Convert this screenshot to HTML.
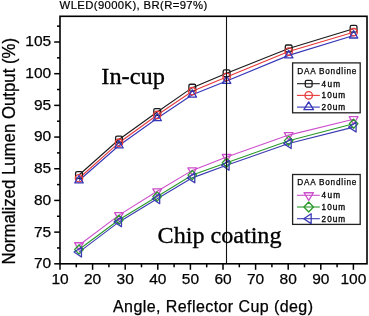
<!DOCTYPE html>
<html><head><meta charset="utf-8"><title>Normalized Lumen Output</title>
<style>
html,body{margin:0;padding:0;background:#fff;width:369px;height:316px;overflow:hidden}
svg{display:block}
text{fill:#000}
</style></head><body>
<svg width="369" height="316" viewBox="0 0 369 316">
<rect width="369" height="316" fill="#fff"/>
<polyline points="79,175.02 119,139.53 157.2,111.97 192.3,87.63 226.6,73.18 288.7,48.41 353.6,28.82" fill="none" stroke="#1a1a1a" stroke-width="1.1"/>
<polyline points="79,178.25 119,142.7 157.2,114.94 192.3,91.18 226.6,76.92 288.7,51.57 353.6,32.18" fill="none" stroke="#e8393a" stroke-width="1.1"/>
<polyline points="79,180.47 119,145.49 157.2,118.24 192.3,94.67 226.6,80.98 288.7,55.38 353.6,35.54" fill="none" stroke="#3636b8" stroke-width="1.1"/>
<polyline points="79,245.23 119,215.13 157.2,191.3 192.3,170.39 226.6,156.96 288.7,135.1 353.6,119.19" fill="none" stroke="#cc4fcc" stroke-width="1.1"/>
<polyline points="79,249.54 119,219.76 157.2,196.56 192.3,175.08 226.6,162.72 288.7,140.67 353.6,123.75" fill="none" stroke="#2a9a2a" stroke-width="1.1"/>
<polyline points="79,252.08 119,221.91 157.2,198.78 192.3,177.87 226.6,165.32 288.7,143.59 353.6,127.11" fill="none" stroke="#3a3ab4" stroke-width="1.1"/>
<rect x="75.6" y="171.62" width="6.8" height="6.8" rx="1.5" fill="none" stroke="#1a1a1a" stroke-width="1.3"/>
<circle cx="79" cy="178.25" r="3.7" fill="none" stroke="#e8393a" stroke-width="1.3"/>
<polygon points="79,175.54 83.2,182.94 74.8,182.94" fill="none" stroke="#3636b8" stroke-width="1.3" stroke-linejoin="round"/>
<polygon points="74.6,242.77 83.4,242.77 79,250.17" fill="none" stroke="#cc4fcc" stroke-width="1.3" stroke-linejoin="round"/>
<polygon points="79,244.94 83.3,249.54 79,254.14 74.7,249.54" fill="none" stroke="#2a9a2a" stroke-width="1.3" stroke-linejoin="round"/>
<polygon points="74.07,252.08 81.47,247.18 81.47,256.98" fill="none" stroke="#3a3ab4" stroke-width="1.3" stroke-linejoin="round"/>
<rect x="115.6" y="136.13" width="6.8" height="6.8" rx="1.5" fill="none" stroke="#1a1a1a" stroke-width="1.3"/>
<circle cx="119" cy="142.7" r="3.7" fill="none" stroke="#e8393a" stroke-width="1.3"/>
<polygon points="119,140.55 123.2,147.95 114.8,147.95" fill="none" stroke="#3636b8" stroke-width="1.3" stroke-linejoin="round"/>
<polygon points="114.6,212.67 123.4,212.67 119,220.07" fill="none" stroke="#cc4fcc" stroke-width="1.3" stroke-linejoin="round"/>
<polygon points="119,215.16 123.3,219.76 119,224.36 114.7,219.76" fill="none" stroke="#2a9a2a" stroke-width="1.3" stroke-linejoin="round"/>
<polygon points="114.07,221.91 121.47,217.01 121.47,226.81" fill="none" stroke="#3a3ab4" stroke-width="1.3" stroke-linejoin="round"/>
<rect x="153.8" y="108.57" width="6.8" height="6.8" rx="1.5" fill="none" stroke="#1a1a1a" stroke-width="1.3"/>
<circle cx="157.2" cy="114.94" r="3.7" fill="none" stroke="#e8393a" stroke-width="1.3"/>
<polygon points="157.2,113.31 161.4,120.71 153,120.71" fill="none" stroke="#3636b8" stroke-width="1.3" stroke-linejoin="round"/>
<polygon points="152.8,188.84 161.6,188.84 157.2,196.24" fill="none" stroke="#cc4fcc" stroke-width="1.3" stroke-linejoin="round"/>
<polygon points="157.2,191.96 161.5,196.56 157.2,201.16 152.9,196.56" fill="none" stroke="#2a9a2a" stroke-width="1.3" stroke-linejoin="round"/>
<polygon points="152.27,198.78 159.67,193.88 159.67,203.68" fill="none" stroke="#3a3ab4" stroke-width="1.3" stroke-linejoin="round"/>
<rect x="188.9" y="84.23" width="6.8" height="6.8" rx="1.5" fill="none" stroke="#1a1a1a" stroke-width="1.3"/>
<circle cx="192.3" cy="91.18" r="3.7" fill="none" stroke="#e8393a" stroke-width="1.3"/>
<polygon points="192.3,89.73 196.5,97.13 188.1,97.13" fill="none" stroke="#3636b8" stroke-width="1.3" stroke-linejoin="round"/>
<polygon points="187.9,167.93 196.7,167.93 192.3,175.33" fill="none" stroke="#cc4fcc" stroke-width="1.3" stroke-linejoin="round"/>
<polygon points="192.3,170.48 196.6,175.08 192.3,179.68 188,175.08" fill="none" stroke="#2a9a2a" stroke-width="1.3" stroke-linejoin="round"/>
<polygon points="187.37,177.87 194.77,172.97 194.77,182.77" fill="none" stroke="#3a3ab4" stroke-width="1.3" stroke-linejoin="round"/>
<rect x="223.2" y="69.78" width="6.8" height="6.8" rx="1.5" fill="none" stroke="#1a1a1a" stroke-width="1.3"/>
<circle cx="226.6" cy="76.92" r="3.7" fill="none" stroke="#e8393a" stroke-width="1.3"/>
<polygon points="226.6,76.04 230.8,83.44 222.4,83.44" fill="none" stroke="#3636b8" stroke-width="1.3" stroke-linejoin="round"/>
<polygon points="222.2,154.49 231,154.49 226.6,161.89" fill="none" stroke="#cc4fcc" stroke-width="1.3" stroke-linejoin="round"/>
<polygon points="226.6,158.12 230.9,162.72 226.6,167.32 222.3,162.72" fill="none" stroke="#2a9a2a" stroke-width="1.3" stroke-linejoin="round"/>
<polygon points="221.67,165.32 229.07,160.42 229.07,170.22" fill="none" stroke="#3a3ab4" stroke-width="1.3" stroke-linejoin="round"/>
<rect x="285.3" y="45.01" width="6.8" height="6.8" rx="1.5" fill="none" stroke="#1a1a1a" stroke-width="1.3"/>
<circle cx="288.7" cy="51.57" r="3.7" fill="none" stroke="#e8393a" stroke-width="1.3"/>
<polygon points="288.7,50.44 292.9,57.84 284.5,57.84" fill="none" stroke="#3636b8" stroke-width="1.3" stroke-linejoin="round"/>
<polygon points="284.3,132.63 293.1,132.63 288.7,140.03" fill="none" stroke="#cc4fcc" stroke-width="1.3" stroke-linejoin="round"/>
<polygon points="288.7,136.07 293,140.67 288.7,145.27 284.4,140.67" fill="none" stroke="#2a9a2a" stroke-width="1.3" stroke-linejoin="round"/>
<polygon points="283.77,143.59 291.17,138.69 291.17,148.49" fill="none" stroke="#3a3ab4" stroke-width="1.3" stroke-linejoin="round"/>
<rect x="350.2" y="25.42" width="6.8" height="6.8" rx="1.5" fill="none" stroke="#1a1a1a" stroke-width="1.3"/>
<circle cx="353.6" cy="32.18" r="3.7" fill="none" stroke="#e8393a" stroke-width="1.3"/>
<polygon points="353.6,30.61 357.8,38.01 349.4,38.01" fill="none" stroke="#3636b8" stroke-width="1.3" stroke-linejoin="round"/>
<polygon points="349.2,116.72 358,116.72 353.6,124.12" fill="none" stroke="#cc4fcc" stroke-width="1.3" stroke-linejoin="round"/>
<polygon points="353.6,119.15 357.9,123.75 353.6,128.35 349.3,123.75" fill="none" stroke="#2a9a2a" stroke-width="1.3" stroke-linejoin="round"/>
<polygon points="348.67,127.11 356.07,122.21 356.07,132.01" fill="none" stroke="#3a3ab4" stroke-width="1.3" stroke-linejoin="round"/>
<line x1="226.5" y1="16.3" x2="226.5" y2="263.8" stroke="#111" stroke-width="1.1"/>
<rect x="60.0" y="16.3" width="307.0" height="247.5" fill="none" stroke="#000" stroke-width="1.6"/>
<line x1="54.2" y1="263.8" x2="60" y2="263.8" stroke="#000" stroke-width="1.5"/>
<line x1="57" y1="247.96" x2="60" y2="247.96" stroke="#000" stroke-width="1.5"/>
<line x1="54.2" y1="232.12" x2="60" y2="232.12" stroke="#000" stroke-width="1.5"/>
<line x1="57" y1="216.27" x2="60" y2="216.27" stroke="#000" stroke-width="1.5"/>
<line x1="54.2" y1="200.43" x2="60" y2="200.43" stroke="#000" stroke-width="1.5"/>
<line x1="57" y1="184.59" x2="60" y2="184.59" stroke="#000" stroke-width="1.5"/>
<line x1="54.2" y1="168.75" x2="60" y2="168.75" stroke="#000" stroke-width="1.5"/>
<line x1="57" y1="152.9" x2="60" y2="152.9" stroke="#000" stroke-width="1.5"/>
<line x1="54.2" y1="137.06" x2="60" y2="137.06" stroke="#000" stroke-width="1.5"/>
<line x1="57" y1="121.22" x2="60" y2="121.22" stroke="#000" stroke-width="1.5"/>
<line x1="54.2" y1="105.38" x2="60" y2="105.38" stroke="#000" stroke-width="1.5"/>
<line x1="57" y1="89.53" x2="60" y2="89.53" stroke="#000" stroke-width="1.5"/>
<line x1="54.2" y1="73.69" x2="60" y2="73.69" stroke="#000" stroke-width="1.5"/>
<line x1="57" y1="57.85" x2="60" y2="57.85" stroke="#000" stroke-width="1.5"/>
<line x1="54.2" y1="42.01" x2="60" y2="42.01" stroke="#000" stroke-width="1.5"/>
<line x1="57" y1="26.16" x2="60" y2="26.16" stroke="#000" stroke-width="1.5"/>
<line x1="60" y1="263.8" x2="60" y2="269.8" stroke="#000" stroke-width="1.5"/>
<line x1="76.3" y1="263.8" x2="76.3" y2="267.3" stroke="#000" stroke-width="1.5"/>
<line x1="92.6" y1="263.8" x2="92.6" y2="269.8" stroke="#000" stroke-width="1.5"/>
<line x1="108.9" y1="263.8" x2="108.9" y2="267.3" stroke="#000" stroke-width="1.5"/>
<line x1="125.2" y1="263.8" x2="125.2" y2="269.8" stroke="#000" stroke-width="1.5"/>
<line x1="141.5" y1="263.8" x2="141.5" y2="267.3" stroke="#000" stroke-width="1.5"/>
<line x1="157.8" y1="263.8" x2="157.8" y2="269.8" stroke="#000" stroke-width="1.5"/>
<line x1="174.1" y1="263.8" x2="174.1" y2="267.3" stroke="#000" stroke-width="1.5"/>
<line x1="190.4" y1="263.8" x2="190.4" y2="269.8" stroke="#000" stroke-width="1.5"/>
<line x1="206.7" y1="263.8" x2="206.7" y2="267.3" stroke="#000" stroke-width="1.5"/>
<line x1="223" y1="263.8" x2="223" y2="269.8" stroke="#000" stroke-width="1.5"/>
<line x1="239.3" y1="263.8" x2="239.3" y2="267.3" stroke="#000" stroke-width="1.5"/>
<line x1="255.6" y1="263.8" x2="255.6" y2="269.8" stroke="#000" stroke-width="1.5"/>
<line x1="271.9" y1="263.8" x2="271.9" y2="267.3" stroke="#000" stroke-width="1.5"/>
<line x1="288.2" y1="263.8" x2="288.2" y2="269.8" stroke="#000" stroke-width="1.5"/>
<line x1="304.5" y1="263.8" x2="304.5" y2="267.3" stroke="#000" stroke-width="1.5"/>
<line x1="320.8" y1="263.8" x2="320.8" y2="269.8" stroke="#000" stroke-width="1.5"/>
<line x1="337.1" y1="263.8" x2="337.1" y2="267.3" stroke="#000" stroke-width="1.5"/>
<line x1="353.4" y1="263.8" x2="353.4" y2="269.8" stroke="#000" stroke-width="1.5"/>
<rect x="292.6" y="62.9" width="67.6" height="49.9" fill="#fff" stroke="#222" stroke-width="1.3"/>
<text x="297.2" y="73.5" style="font-family:'Liberation Sans',Arial,sans-serif;font-size:8.2px;stroke:#000;stroke-width:0.25" textLength="59.2" lengthAdjust="spacing">DAA Bondline</text>
<line x1="297.0" y1="83.7" x2="319.8" y2="83.7" stroke="#1a1a1a" stroke-width="1.1"/>
<rect x="305.3" y="80.3" width="6.8" height="6.8" rx="1.5" fill="none" stroke="#1a1a1a" stroke-width="1.3"/>
<text x="321.6" y="86.7" style="font-family:'Liberation Sans',Arial,sans-serif;font-size:8.2px;stroke:#000;stroke-width:0.3" textLength="18.6" lengthAdjust="spacing">4um</text>
<line x1="297.0" y1="95.4" x2="319.8" y2="95.4" stroke="#e8393a" stroke-width="1.1"/>
<circle cx="308.7" cy="95.4" r="3.7" fill="none" stroke="#e8393a" stroke-width="1.3"/>
<text x="321.6" y="98.4" style="font-family:'Liberation Sans',Arial,sans-serif;font-size:8.2px;stroke:#000;stroke-width:0.3" textLength="23.6" lengthAdjust="spacing">10um</text>
<line x1="297.0" y1="107.1" x2="319.8" y2="107.1" stroke="#3636b8" stroke-width="1.1"/>
<polygon points="308.7,101.9 313.5,109.7 303.9,109.7" fill="none" stroke="#3636b8" stroke-width="1.3" stroke-linejoin="round"/>
<text x="321.6" y="110.1" style="font-family:'Liberation Sans',Arial,sans-serif;font-size:8.2px;stroke:#000;stroke-width:0.3" textLength="23.6" lengthAdjust="spacing">20um</text>
<rect x="292.6" y="174.5" width="67.6" height="49.9" fill="#fff" stroke="#222" stroke-width="1.3"/>
<text x="297.2" y="185.1" style="font-family:'Liberation Sans',Arial,sans-serif;font-size:8.2px;stroke:#000;stroke-width:0.25" textLength="59.2" lengthAdjust="spacing">DAA Bondline</text>
<line x1="297.0" y1="195.3" x2="319.8" y2="195.3" stroke="#cc4fcc" stroke-width="1.1"/>
<polygon points="304,192.77 313.4,192.77 308.7,200.37" fill="none" stroke="#cc4fcc" stroke-width="1.3" stroke-linejoin="round"/>
<text x="321.6" y="198.3" style="font-family:'Liberation Sans',Arial,sans-serif;font-size:8.2px;stroke:#000;stroke-width:0.3" textLength="18.6" lengthAdjust="spacing">4um</text>
<line x1="297.0" y1="207" x2="319.8" y2="207" stroke="#2a9a2a" stroke-width="1.1"/>
<polygon points="308.7,202 313.4,207 308.7,212 304,207" fill="none" stroke="#2a9a2a" stroke-width="1.3" stroke-linejoin="round"/>
<text x="321.6" y="210" style="font-family:'Liberation Sans',Arial,sans-serif;font-size:8.2px;stroke:#000;stroke-width:0.3" textLength="23.6" lengthAdjust="spacing">10um</text>
<line x1="297.0" y1="218.7" x2="319.8" y2="218.7" stroke="#3a3ab4" stroke-width="1.1"/>
<polygon points="303.77,218.7 311.17,213.8 311.17,223.6" fill="none" stroke="#3a3ab4" stroke-width="1.3" stroke-linejoin="round"/>
<text x="321.6" y="221.7" style="font-family:'Liberation Sans',Arial,sans-serif;font-size:8.2px;stroke:#000;stroke-width:0.3" textLength="23.6" lengthAdjust="spacing">20um</text>
<text x="51.2" y="268.2" text-anchor="end" style="font-family:'Liberation Sans',Arial,sans-serif;font-size:15.5px;stroke:#000;stroke-width:0.25">70</text>
<text x="51.2" y="236.52" text-anchor="end" style="font-family:'Liberation Sans',Arial,sans-serif;font-size:15.5px;stroke:#000;stroke-width:0.25">75</text>
<text x="51.2" y="204.83" text-anchor="end" style="font-family:'Liberation Sans',Arial,sans-serif;font-size:15.5px;stroke:#000;stroke-width:0.25">80</text>
<text x="51.2" y="173.15" text-anchor="end" style="font-family:'Liberation Sans',Arial,sans-serif;font-size:15.5px;stroke:#000;stroke-width:0.25">85</text>
<text x="51.2" y="141.46" text-anchor="end" style="font-family:'Liberation Sans',Arial,sans-serif;font-size:15.5px;stroke:#000;stroke-width:0.25">90</text>
<text x="51.2" y="109.78" text-anchor="end" style="font-family:'Liberation Sans',Arial,sans-serif;font-size:15.5px;stroke:#000;stroke-width:0.25">95</text>
<text x="51.2" y="78.09" text-anchor="end" style="font-family:'Liberation Sans',Arial,sans-serif;font-size:15.5px;stroke:#000;stroke-width:0.25">100</text>
<text x="51.2" y="46.41" text-anchor="end" style="font-family:'Liberation Sans',Arial,sans-serif;font-size:15.5px;stroke:#000;stroke-width:0.25">105</text>
<text x="60" y="284.1" text-anchor="middle" style="font-family:'Liberation Sans',Arial,sans-serif;font-size:15.5px;stroke:#000;stroke-width:0.25">10</text>
<text x="92.6" y="284.1" text-anchor="middle" style="font-family:'Liberation Sans',Arial,sans-serif;font-size:15.5px;stroke:#000;stroke-width:0.25">20</text>
<text x="125.2" y="284.1" text-anchor="middle" style="font-family:'Liberation Sans',Arial,sans-serif;font-size:15.5px;stroke:#000;stroke-width:0.25">30</text>
<text x="157.8" y="284.1" text-anchor="middle" style="font-family:'Liberation Sans',Arial,sans-serif;font-size:15.5px;stroke:#000;stroke-width:0.25">40</text>
<text x="190.4" y="284.1" text-anchor="middle" style="font-family:'Liberation Sans',Arial,sans-serif;font-size:15.5px;stroke:#000;stroke-width:0.25">50</text>
<text x="223" y="284.1" text-anchor="middle" style="font-family:'Liberation Sans',Arial,sans-serif;font-size:15.5px;stroke:#000;stroke-width:0.25">60</text>
<text x="255.6" y="284.1" text-anchor="middle" style="font-family:'Liberation Sans',Arial,sans-serif;font-size:15.5px;stroke:#000;stroke-width:0.25">70</text>
<text x="288.2" y="284.1" text-anchor="middle" style="font-family:'Liberation Sans',Arial,sans-serif;font-size:15.5px;stroke:#000;stroke-width:0.25">80</text>
<text x="320.8" y="284.1" text-anchor="middle" style="font-family:'Liberation Sans',Arial,sans-serif;font-size:15.5px;stroke:#000;stroke-width:0.25">90</text>
<text x="353.4" y="284.1" text-anchor="middle" style="font-family:'Liberation Sans',Arial,sans-serif;font-size:15.5px;stroke:#000;stroke-width:0.25">100</text>
<text x="113" y="311.5" style="font-family:'Liberation Sans',Arial,sans-serif;font-size:16px;stroke:#000;stroke-width:0.25" textLength="200" lengthAdjust="spacing">Angle, Reflector Cup (deg)</text>
<text transform="translate(14.5,264.6) scale(1.05,1) rotate(-90)" x="0" y="0" style="font-family:'Liberation Sans',Arial,sans-serif;font-size:17.2px;stroke:#000;stroke-width:0.25" textLength="226.7" lengthAdjust="spacingAndGlyphs">Normalized Lumen Output (%)</text>
<text x="59.6" y="9.3" style="font-family:'Liberation Sans',Arial,sans-serif;font-size:11.3px;stroke:#000;stroke-width:0.2" textLength="147.6" lengthAdjust="spacing">WLED(9000K), BR(R=97%)</text>
<text x="101.3" y="84.1" style="font-family:'Liberation Serif','Times New Roman',serif;font-size:24px;stroke:#000;stroke-width:0.35" textLength="63.6" lengthAdjust="spacingAndGlyphs">In-cup</text>
<text x="157.6" y="242.5" style="font-family:'Liberation Serif','Times New Roman',serif;font-size:24px;stroke:#000;stroke-width:0.35" textLength="123.9" lengthAdjust="spacingAndGlyphs">Chip coating</text>
</svg>
</body></html>
